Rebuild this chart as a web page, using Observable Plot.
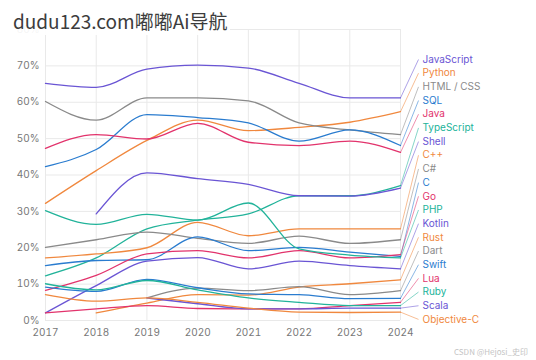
<!DOCTYPE html>
<html><head><meta charset="utf-8">
<script src="https://cdn.jsdelivr.net/npm/d3@7"></script>
<script src="https://cdn.jsdelivr.net/npm/@observablehq/plot@0.6"></script>
<style>
body{margin:0;background:#fff;}
#wrap{position:relative;width:536px;height:360px;overflow:hidden;background:#fff;}
#title{position:absolute;left:10px;top:7px;font:19px "Noto Sans CJK SC","Noto Sans",sans-serif;color:#3c3c3c;background:rgba(255,255,255,0.92);padding:0 3px;line-height:28px;}
#mark{position:absolute;right:8px;bottom:3px;font:8px "Noto Sans CJK SC",sans-serif;color:#c4c4c4;}
</style></head><body>
<div id="wrap"><div id="chart"></div><div id="title">dudu123.com嘟嘟Ai导航</div><div id="mark">CSDN @Hejosi_史印</div></div>
<script>
const years = [2017, 2018, 2019, 2020, 2021, 2022, 2023, 2024];
const languages = ["JavaScript","Python","HTML / CSS","SQL","Java","TypeScript","Shell","C++","C#","C","Go","PHP","Kotlin","Rust","Dart","Swift","Lua","Ruby","Scala","Objective-C"];
const javascript = [65.2, 64.1, 69.1, 70.2, 69.4, 65.2, 61.2, 61.2];
const python     = [32.2, 41.2, 49.5, 55.1, 52.2, 53.1, 54.5, 57.4];
const htmlcss    = [60.2, 55.1, 61.2, 61.2, 60.4, 54.3, 52.4, 51.1];
const sql        = [42.3, 47.0, 56.6, 55.8, 54.3, 49.3, 52.4, 48.1];
const java       = [47.3, 51.1, 49.9, 54.2, 49.0, 48.1, 49.3, 46.2];
const typescript = [12.3, 17.2, 25.2, 27.6, 29.3, 34.3, 34.3, 37.1];
const shell      = [null, 29.3, 40.6, 39.0, 37.4, 34.3, 34.2, 36.4];
const cpp        = [17.2, 18.3, 20.0, 27.0, 23.3, 25.2, 25.2, 25.2];
const csharp     = [20.1, 22.2, 24.3, 22.6, 21.2, 23.2, 21.2, 22.2];
const c          = [15.1, 16.5, 16.7, 23.0, 19.2, 20.1, 18.8, 17.6];
const go         = [8.3, 12.4, 18.3, 19.2, 17.2, 19.2, 17.2, 18.1];
const php        = [30.2, 26.4, 29.2, 27.6, 32.3, 19.7, 18.0, 17.2];
const kotlin     = [2.1, 9.6, 16.3, 17.3, 14.2, 16.3, 15.1, 14.2];
const rust       = [null, 2.1, 4.8, 7.1, 7.0, 9.2, 10.1, 11.2];
const dart       = [null, null, 6.2, 8.9, 8.2, 9.3, 7.1, 8.2];
const swift      = [9.2, 8.0, 11.3, 9.0, 7.3, 7.1, 6.0, 6.1];
const lua        = [2.1, 3.2, 4.1, 3.3, 3.2, 3.2, 4.1, 5.0];
const ruby       = [10.1, 8.4, 11.0, 8.4, 6.2, 5.0, 4.1, 4.1];
const scala      = [null, null, 6.2, 4.6, 3.2, 3.2, 3.4, 3.4];
const objc       = [7.1, 5.3, 6.2, 5.0, 3.4, 2.3, 2.2, 2.3];
const yTicks = [0, 10, 20, 30, 40, 50, 60, 70, 80];
const palette = ["#6a55d4", "#f0883e", "#8a8a8a", "#2a7ccf", "#e2336c", "#22b39a"];

const seriesValues = [javascript, python, htmlcss, sql, java, typescript, shell, cpp, csharp, c, go, php, kotlin, rust, dart, swift, lua, ruby, scala, objc];

const W = 536, H = 360, mL = 45, mR = 136, mT = 29, mB = 40;
const xPix = d3.scaleLinear([2017, 2024], [mL, W - mR]);
const yPix = d3.scaleLinear([0, 80], [H - mB, mT]);

const rows = [];
languages.forEach((lang, i) => {
  seriesValues[i].forEach((v, j) => {
    if (v != null) rows.push({lang, i, year: years[j], value: v});
  });
});
const ends = languages.map((lang, i) => {
  const vals = seriesValues[i];
  return {lang, i, value: vals[vals.length - 1], slot: yPix.invert(59 + i * 13.68)};
});
const colorOf = i => palette[i % palette.length];
const labelX = xPix.invert(418);

const plot = Plot.plot({
  width: W, height: H,
  marginLeft: mL, marginRight: mR, marginTop: mT, marginBottom: mB,
  style: {fontFamily: "Inter, sans-serif", fontSize: "10px", color: "#777", background: "#fff", overflow: "visible"},
  x: {domain: [2017, 2024], ticks: years, tickFormat: d => String(d), tickSize: 0, tickPadding: 8, label: null},
  y: {domain: [0, 80], ticks: yTicks, tickFormat: d => d + "%", tickSize: 0, tickPadding: 6, label: null},
  marks: [
    Plot.gridX(years, {stroke: "#e9e9e9", strokeOpacity: 1}),
    Plot.gridY(yTicks, {stroke: "#e9e9e9", strokeOpacity: 1}),
    Plot.link(ends, {x1: 2024, y1: "value", x2: labelX, y2: "slot", stroke: d => colorOf(d.i), strokeOpacity: 0.55, strokeWidth: 1}),
    Plot.line(rows, {x: "year", y: "value", z: "lang", stroke: d => colorOf(d.i), strokeWidth: 1.3, curve: "monotone-x"}),
    Plot.text(ends, {x: 2024, y: "slot", text: "lang", dx: 22, textAnchor: "start", fill: d => colorOf(d.i), fontSize: 10, style: "letter-spacing:0.4px"})
  ]
});
document.getElementById("chart").appendChild(plot);
</script>
</body></html>
